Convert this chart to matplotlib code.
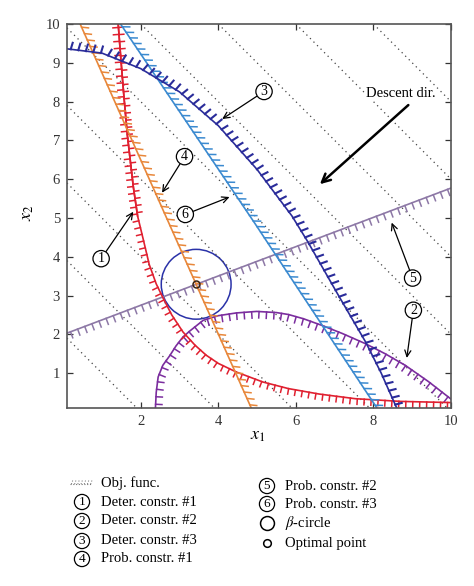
import matplotlib
matplotlib.use("Agg")
import matplotlib.pyplot as plt
import matplotlib.patheffects as pe
from matplotlib.lines import Line2D

plt.rcParams['font.family'] = ['Liberation Serif', 'DejaVu Serif']
plt.rcParams['mathtext.fontset'] = 'stix'

# objective contours (dotted), read as start/end points
obj_x0 = [0.1, 0.1, 0.1, 0.1, 0.1, 2.0, 4.0, 6.0, 8.0]
obj_y0 = [1.9, 3.9, 5.9, 7.9, 9.9, 10.0, 10.0, 10.0, 10.0]
obj_x1 = [1.9, 3.9, 5.9, 7.9, 9.9, 10.0, 10.0, 10.0, 10.0]
obj_y1 = [0.1, 0.1, 0.1, 0.1, 0.1, 2.0, 4.0, 6.0, 8.0]

# (1) deterministic constraint #1
c1_x = [1.42, 1.49, 1.57, 1.66, 1.81, 1.92, 2.07, 2.22, 2.40, 2.57, 2.80, 3.09,
        3.40, 3.69, 4.00, 4.46, 5.15, 5.81, 6.60, 7.53, 8.70, 10.0]
c1_y = [10.0, 9.08, 8.10, 7.10, 5.80, 5.05, 4.43, 3.80, 3.30, 2.95, 2.50, 2.06,
        1.72, 1.46, 1.25, 1.03, 0.77, 0.60, 0.46, 0.34, 0.27, 0.24]

# (2) deterministic constraint #2
c2_x = [2.38, 2.40, 2.45, 2.57, 2.75, 2.91, 3.09, 3.26, 3.61, 4.00, 4.46, 4.99,
        5.50, 5.81, 6.20, 6.67, 7.20, 7.79, 8.30, 8.82, 9.42, 10.0]
c2_y = [0.10, 0.50, 0.90, 1.20, 1.45, 1.70, 1.93, 2.08, 2.36, 2.48, 2.55, 2.59,
        2.56, 2.51, 2.40, 2.23, 2.02, 1.76, 1.50, 1.20, 0.78, 0.33]

# (3) deterministic constraint #3
c3_x = [0.1, 1.0, 2.0, 3.0, 4.0, 5.0, 5.9, 6.3, 7.1, 7.8, 8.2, 8.6]
c3_y = [9.36, 9.25, 8.85, 8.25, 7.38, 6.25, 5.05, 4.40, 3.00, 1.80, 1.00, 0.10]

# (4) probabilistic constraint #1
p1_x = [0.44, 4.85]
p1_y = [10.0, 0.1]

# (5) probabilistic constraint #2
p2_x = [0.1, 10.0]
p2_y = [2.03, 5.77]

# (6) probabilistic constraint #3
p3_x = [1.48, 4.95, 8.09]
p3_y = [10.0, 4.85, 0.1]

opt_pt = (3.43, 3.29)
beta_r = 0.9

# label bubbles: number, label position, arrow tip
lab_num = ['1', '2', '3', '4', '5', '6']
lab_xy = [(0.98, 3.95), (9.03, 2.62), (5.18, 8.26), (3.13, 6.58), (9.01, 3.45), (3.15, 5.09)]
lab_tip = [(1.81, 5.16), (8.86, 1.39), (4.10, 7.55), (2.55, 5.65), (8.47, 4.88), (4.29, 5.54)]

legend_left = ['Obj. func.', 'Deter. constr. #1', 'Deter. constr. #2',
               'Deter. constr. #3', 'Prob. constr. #1']
legend_right = ['Prob. constr. #2', 'Prob. constr. #3', r'$\beta$-circle', 'Optimal point']

RED = '#e02030'
ORANGE = '#e8873a'
LBLUE = '#3b8ad0'
NAVY = '#2a2c9a'
PURPLE = '#7b2d9e'
MAUVE = '#8d78a6'


def ticks(angle, spacing=5.2, length=0.8, lw=1.1):
    return [pe.withTickedStroke(spacing=spacing, angle=angle, length=length, linewidth=lw)]


fig = plt.figure(figsize=(4.74, 5.86), dpi=100)
ax = fig.add_axes([67 / 474, 1 - 408 / 586, 384 / 474, 384 / 586])

for i in range(len(obj_x0)):
    ax.plot([obj_x0[i], obj_x1[i]], [obj_y0[i], obj_y1[i]], color='#444444',
            lw=0.9, linestyle=(0, (1, 3)))

ax.plot(p2_x, p2_y, color=MAUVE, lw=1.2, path_effects=ticks(-90, 5.4, 0.85))
ax.plot(c2_x, c2_y, color=PURPLE, lw=1.2, path_effects=ticks(-90, 5.4, 0.85))
ax.plot(c1_x, c1_y, color=RED, lw=1.2, path_effects=ticks(-90, 5.0, 0.8))
ax.plot(c1_x[:6], c1_y[:6], color=RED, lw=1.2, path_effects=ticks(90, 5.0, 0.7))
ax.plot(p1_x, p1_y, color=ORANGE, lw=1.2, path_effects=ticks(60, 5.0, 1.0))
ax.plot(p3_x, p3_y, color=LBLUE, lw=1.2, path_effects=ticks(55, 4.8, 1.1))
ax.plot(c3_x, c3_y, color=NAVY, lw=1.2, path_effects=ticks(80, 5.4, 0.9, 1.5))

ax.add_patch(plt.Circle(opt_pt, beta_r, fill=False, ec='#2a32a8', lw=1.1))
ax.plot(*opt_pt, 'o', ms=5, mfc='none', mec='#3a2414', mew=1.1)

for n, xy, tip in zip(lab_num, lab_xy, lab_tip):
    ax.annotate(n, xy=tip, xytext=xy, ha='center', va='center', fontsize=10,
                bbox=dict(boxstyle='circle,pad=0.12', fc='white', ec='black', lw=0.9),
                arrowprops=dict(arrowstyle='->,head_length=0.45,head_width=0.22',
                                lw=0.9, color='black', shrinkA=0, shrinkB=0))

ax.annotate('', xy=(6.62, 5.87), xytext=(8.90, 7.91),
            arrowprops=dict(arrowstyle='->,head_length=0.6,head_width=0.3',
                            lw=1.8, color='black', shrinkA=0, shrinkB=0))
ax.text(8.70, 8.22, 'Descent dir.', ha='center', va='center', fontsize=10.5,
        bbox=dict(fc='white', ec='none', pad=0.5))

ax.set_xlim(0.1, 10)
ax.set_ylim(0.1, 10)
ax.set_xticks([2, 4, 6, 8, 10])
ax.set_yticks(range(1, 11))
ax.tick_params(direction='in', top=True, right=True, length=4, width=0.9,
               colors='#333333', labelsize=10.5, pad=5)
ax.tick_params(labeltop=False, labelright=False)
for s in ax.spines.values():
    s.set_color('#555555')
    s.set_linewidth(1.2)

fig.text(258 / 474, 1 - 436 / 586, r'$x_1$', ha='center', va='center', fontsize=13)
fig.text(28 / 474, 1 - 213 / 586, r'$x_2$', ha='center', va='center', fontsize=13,
         rotation=90)

# legend drawn below the axes
rows_l = [483, 502, 521, 541, 559]
rows_r = [486, 504, 523, 543]
for i, (lab, py) in enumerate(zip(legend_left, rows_l)):
    y = 1 - py / 586
    fig.text(101 / 474, y, lab, ha='left', va='center', fontsize=10.5)
    if i == 0:
        seg = Line2D([70 / 474, 92 / 474], [y - 0.002, y - 0.002], transform=fig.transFigure,
                     color='#777777', lw=0.8, linestyle=(0, (1, 1.5)),
                     path_effects=[pe.withTickedStroke(spacing=2.0, angle=70, length=1.6,
                                                       linewidth=0.7)])
        fig.add_artist(seg)
    else:
        fig.text(82 / 474, y, str(i), ha='center', va='center', fontsize=9.5,
                 bbox=dict(boxstyle='circle,pad=0.12', fc='white', ec='black', lw=0.9))
for i, (lab, py) in enumerate(zip(legend_right, rows_r)):
    y = 1 - py / 586
    fig.text(285 / 474, y, lab, ha='left', va='center', fontsize=10.5)
    if i < 2:
        fig.text(267 / 474, y, str(i + 5), ha='center', va='center', fontsize=9.5,
                 bbox=dict(boxstyle='circle,pad=0.12', fc='white', ec='black', lw=0.9))
    else:
        ms = 10 if i == 2 else 5.5
        fig.add_artist(Line2D([267 / 474], [y], transform=fig.transFigure, marker='o',
                              ms=ms, mfc='none', mec='black', mew=1.1))

fig.savefig('out.png', dpi=100)
